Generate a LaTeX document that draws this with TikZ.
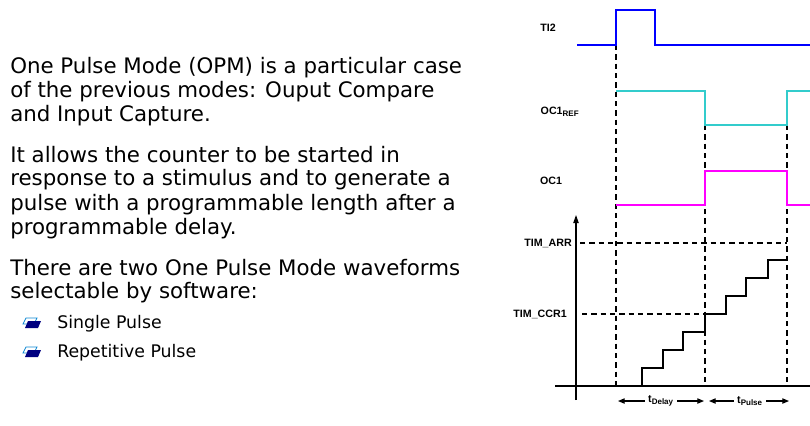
\documentclass[tikz,border=0pt]{standalone}
\usepackage{fontspec}
\setmainfont{DejaVu Sans}
\newfontfamily\arial{Liberation Sans}
\usetikzlibrary{arrows.meta}
\definecolor{turq}{RGB}{51,204,204}
\definecolor{mag}{RGB}{255,0,255}
\begin{document}
\begin{tikzpicture}[x=0.75pt,y=-0.75pt,
  txt/.style={anchor=west,inner sep=0pt,font=\fontsize{16}{18}\selectfont},
  lab/.style={inner sep=0pt,font=\arial\bfseries\fontsize{8}{9}\selectfont},
  sig/.style={line width=1.6pt},
  dsh/.style={dash pattern=on 4pt off 3pt,line width=0.8pt}]
\useasboundingbox (0,0) rectangle (810,425);
% left text
\foreach \t/\y in {{One Pulse Mode (OPM) is a particular case}/68,{of the previous modes: Ouput Compare}/92,{and Input Capture.}/116,
 {It allows the counter to be started in}/155,{response to a stimulus and to generate a}/180,{pulse with a programmable length after a}/205,{programmable delay.}/229,
 {There are two One Pulse Mode waveforms}/268,{selectable by software:}/293}
  \node[txt] at (10,\y) {\t};
\node[txt,font=\fontsize{13}{15}\selectfont] (b1) at (57,324) {Single Pulse};
\node[txt,font=\fontsize{13}{15}\selectfont] (b2) at (57,353) {Repetitive Pulse};
\foreach \y in {324,353}{
  \draw[cyan!70!blue,line width=0.6pt] (26,\y-6) -- (37,\y-6) -- (34,\y) -- (23,\y) -- cycle;
  \fill[blue!50!black] (28,\y-3) -- (41,\y-3) -- (38,\y+4) -- (25,\y+4) -- cycle;}
% dashed verticals
\draw[dsh] (616,45) -- (616,386);
\draw[dsh] (705,125) -- (705,386);
\draw[dsh] (787,125) -- (787,386);
% signals
\draw[sig,blue] (577,45) -- (616,45) -- (616,10) -- (655,10) -- (655,45) -- (810,45);
\draw[sig,turq] (616,91) -- (705,91) -- (705,125) -- (787,125) -- (787,91) -- (810,91);
\draw[sig,mag] (616,205) -- (705,205) -- (705,171) -- (787,171) -- (787,205) -- (810,205);
% labels
\node[lab] (ti2) at (548,28) {TI2};
\node[lab] (ocr) at (560,112) {OC1\textsubscript{REF}};
\node[lab] (oc1) at (551,181) {OC1};
\node[lab,anchor=east] (arr) at (572,243) {TIM\_ARR};
\node[lab,anchor=east] (ccr) at (567,314) {TIM\_CCR1};
% axes
\draw[line width=0.8pt,-{Triangle[length=6pt,width=4pt]}] (576,400) -- (576,215);
\draw[line width=0.8pt] (555,386) -- (810,386);
\draw[dsh] (580,243) -- (787,243);
\draw[dsh] (582,314) -- (705,314);
% staircase
\draw[line width=0.9pt] (622,386) -- (642,386) |- (663,368) |- (683,350) |- (705,332) |- (726,314) |- (746,296) |- (768,278) |- (787,260);
% time arrows
\node[lab] (td) at (661,401) {t\textsubscript{Delay}};
\node[lab] (tp) at (750,401) {t\textsubscript{Pulse}};
\draw[line width=0.8pt,-{Triangle[length=5pt,width=4pt]}] (td.west) ++(-3,0) -- (618,401);
\draw[line width=0.8pt,-{Triangle[length=5pt,width=4pt]}] (td.east) ++(3,0) -- (704,401);
\draw[line width=0.8pt,-{Triangle[length=5pt,width=4pt]}] (tp.west) ++(-3,0) -- (709,401);
\draw[line width=0.8pt,-{Triangle[length=5pt,width=4pt]}] (tp.east) ++(3,0) -- (789,401);
\end{tikzpicture}
\end{document}
